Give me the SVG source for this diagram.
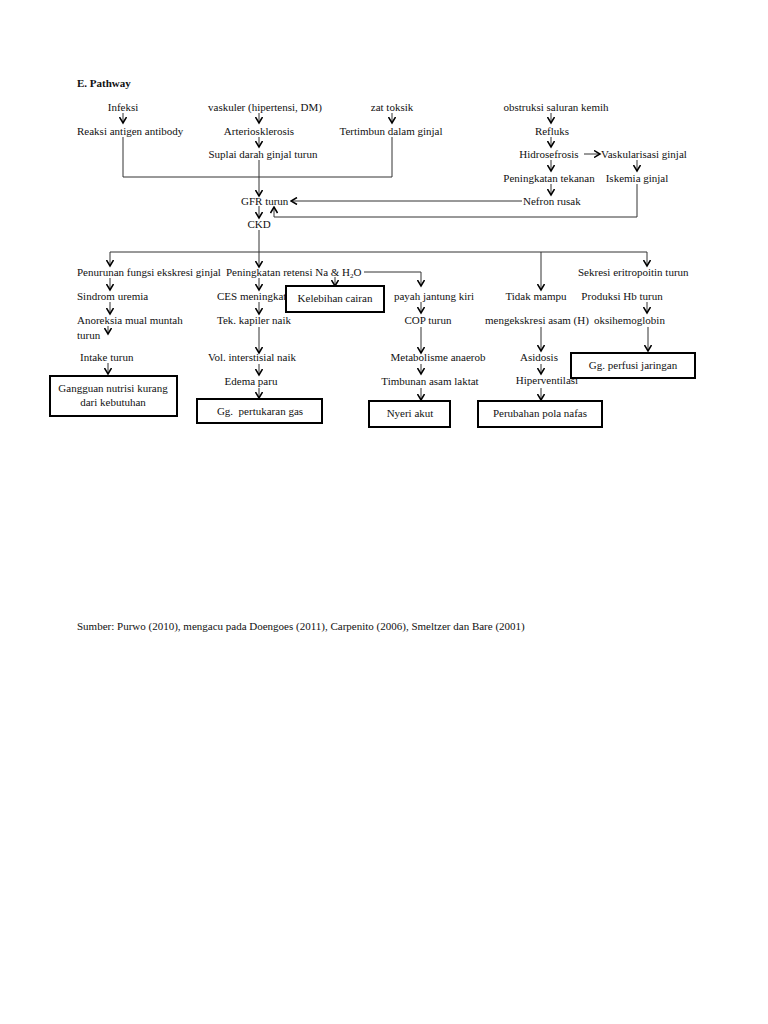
<svg xmlns="http://www.w3.org/2000/svg" width="768" height="1024" viewBox="0 0 768 1024">
<style>
text{font-family:"Liberation Serif","Times New Roman",serif;font-size:11px;fill:#111}
.m{text-anchor:middle}
.b{font-weight:bold}
.ln{fill:none;stroke:#333;stroke-width:1}
.ar{fill:none;stroke:#333;stroke-width:1;marker-end:url(#v)}
.box{fill:#fff;stroke:#000;stroke-width:2}
</style>
<defs>
<marker id="v" viewBox="0 0 8 8" refX="6.5" refY="4" markerWidth="8" markerHeight="8" markerUnits="userSpaceOnUse" orient="auto">
<path d="M0.5,0.5 L6.5,4 L0.5,7.5" fill="none" stroke="#000" stroke-width="1.5"/>
</marker>
</defs>
<rect width="768" height="1024" fill="#fff"/>
<text x="77" y="87" class="b">E. Pathway</text>

<g id="connectors">
<line class="ar" x1="123" y1="113" x2="123" y2="123"/>
<line class="ar" x1="259" y1="113" x2="259" y2="123"/>
<line class="ar" x1="392" y1="113" x2="392" y2="123"/>
<line class="ar" x1="551" y1="113" x2="551" y2="123"/>
<line class="ar" x1="259" y1="137" x2="259" y2="147"/>
<line class="ar" x1="551" y1="137" x2="551" y2="147"/>
<line class="ar" x1="551" y1="160" x2="551" y2="171"/>
<line class="ar" x1="637" y1="160" x2="637" y2="171"/>
<line class="ar" x1="584" y1="154" x2="600" y2="154"/>
<line class="ar" x1="551" y1="184" x2="551" y2="195"/>
<polyline class="ln" points="123,137 123,177 392,177 392,137"/>
<line class="ar" x1="259" y1="160" x2="259" y2="196"/>
<line class="ar" x1="522" y1="201" x2="291" y2="201"/>
<polyline class="ar" points="637,184 637,217 274,217 274,207"/>
<line class="ar" x1="259" y1="206" x2="259" y2="218"/>
<line class="ar" x1="259" y1="230" x2="259" y2="267"/>
<polyline class="ar" points="110,252 110,266"/>
<line class="ln" x1="110" y1="252" x2="647" y2="252"/>
<line class="ar" x1="541" y1="252" x2="541" y2="290"/>
<line class="ar" x1="647" y1="252" x2="647" y2="266"/>
<polyline class="ar" points="364,272 421,272 421,286"/>
<line class="ar" x1="335" y1="277" x2="335" y2="286"/>
<line class="ar" x1="110" y1="278" x2="110" y2="290"/>
<line class="ar" x1="259" y1="278" x2="259" y2="290"/>
<line class="ar" x1="110" y1="302" x2="110" y2="314"/>
<line class="ar" x1="259" y1="302" x2="259" y2="314"/>
<line class="ar" x1="421" y1="302" x2="421" y2="313"/>
<line class="ar" x1="647" y1="302" x2="647" y2="313"/>
<line class="ar" x1="108" y1="326" x2="108" y2="334"/>
<line class="ar" x1="259" y1="327" x2="259" y2="353"/>
<line class="ar" x1="421" y1="327" x2="421" y2="353"/>
<line class="ar" x1="541" y1="327" x2="541" y2="351"/>
<line class="ar" x1="648" y1="327" x2="648" y2="351"/>
<line class="ar" x1="108" y1="363" x2="108" y2="374"/>
<line class="ar" x1="259" y1="364" x2="259" y2="375"/>
<line class="ar" x1="421" y1="364" x2="421" y2="374"/>
<line class="ar" x1="541" y1="364" x2="541" y2="374"/>
<line class="ar" x1="259" y1="388" x2="259" y2="398"/>
<line class="ar" x1="421" y1="388" x2="421" y2="400"/>
<line class="ar" x1="541" y1="388" x2="541" y2="400"/>
</g>

<g id="n-infeksi"><text x="123" y="111" class="m">Infeksi</text></g>
<g id="n-vaskuler"><text x="265" y="111" class="m">vaskuler (hipertensi, DM)</text></g>
<g id="n-zat"><text x="392" y="111" class="m">zat toksik</text></g>
<g id="n-obstruksi"><text x="556" y="111" class="m">obstruksi saluran kemih</text></g>
<g id="n-reaksi"><text x="77" y="135">Reaksi antigen antibody</text></g>
<g id="n-arterio"><text x="259" y="135" class="m">Arteriosklerosis</text></g>
<g id="n-tertimbun"><text x="391" y="135" class="m">Tertimbun dalam ginjal</text></g>
<g id="n-refluks"><text x="552" y="135" class="m">Refluks</text></g>
<g id="n-suplai"><text x="263" y="158" class="m">Suplai darah ginjal turun</text></g>
<g id="n-hidro"><text x="549" y="158" class="m">Hidrosefrosis</text></g>
<g id="n-vaskularisasi"><text x="601" y="158">Vaskularisasi ginjal</text></g>
<g id="n-peningkatan-tekanan"><text x="549" y="182" class="m">Peningkatan tekanan</text></g>
<g id="n-iskemia"><text x="637" y="182" class="m">Iskemia ginjal</text></g>
<g id="n-gfr"><text x="241" y="205">GFR turun</text></g>
<g id="n-nefron"><text x="523" y="205">Nefron rusak</text></g>
<g id="n-ckd"><text x="259" y="228" class="m">CKD</text></g>
<g id="n-penurunan"><text x="77" y="276">Penurunan fungsi ekskresi ginjal</text></g>
<g id="n-retensi"><text x="226" y="276">Peningkatan retensi Na &amp; H<tspan font-size="7" dy="2">2</tspan><tspan dy="-2">O</tspan></text></g>
<g id="n-sekresi"><text x="578" y="276">Sekresi eritropoitin turun</text></g>
<g id="n-sindrom"><text x="77" y="300">Sindrom uremia</text></g>
<g id="n-ces"><text x="217" y="300">CES meningkat</text></g>
<g id="n-kelebihan"><rect class="box" x="286" y="286" width="98" height="26"/><text x="335" y="302" class="m">Kelebihan cairan</text></g>
<g id="n-payah"><text x="434" y="300" class="m">payah jantung kiri</text></g>
<g id="n-tidak"><text x="536" y="300" class="m">Tidak mampu</text></g>
<g id="n-produksi"><text x="622" y="300" class="m">Produksi Hb turun</text></g>
<g id="n-anoreksia"><text x="77" y="324">Anoreksia mual muntah</text><text x="77" y="339">turun</text></g>
<g id="n-tek"><text x="217" y="324">Tek. kapiler naik</text></g>
<g id="n-cop"><text x="428" y="324" class="m">COP turun</text></g>
<g id="n-mengekskresi"><text x="485" y="324">mengekskresi asam (H)</text></g>
<g id="n-oksi"><text x="594" y="324">oksihemoglobin</text></g>
<g id="n-intake"><text x="80" y="361">Intake turun</text></g>
<g id="n-vol"><text x="252" y="361" class="m">Vol. interstisial naik</text></g>
<g id="n-metabolisme"><text x="438" y="361" class="m">Metabolisme anaerob</text></g>
<g id="n-asidosis"><text x="539" y="361" class="m">Asidosis</text></g>
<g id="n-perfusi"><rect class="box" x="571" y="353" width="124" height="25"/><text x="633" y="369" class="m">Gg. perfusi jaringan</text></g>
<g id="n-edema"><text x="251" y="385" class="m">Edema paru</text></g>
<g id="n-timbunan"><text x="430" y="385" class="m">Timbunan asam laktat</text></g>
<g id="n-hiper"><text x="547" y="384" class="m">Hiperventilasi</text></g>
<g id="n-gangguan"><rect class="box" x="50" y="376" width="127" height="40"/><text x="113" y="392" class="m">Gangguan nutrisi kurang</text><text x="113" y="406" class="m">dari kebutuhan</text></g>
<g id="n-pertukaran"><rect class="box" x="197" y="399" width="125" height="24"/><text x="260" y="415" class="m" xml:space="preserve">Gg.  pertukaran gas</text></g>
<g id="n-nyeri"><rect class="box" x="369" y="401" width="81" height="26"/><text x="410" y="417" class="m">Nyeri akut</text></g>
<g id="n-perubahan"><rect class="box" x="478" y="401" width="124" height="26"/><text x="540" y="417" class="m">Perubahan pola nafas</text></g>

<text x="77" y="630">Sumber: Purwo (2010), mengacu pada Doengoes (2011), Carpenito (2006), Smeltzer dan Bare (2001)</text>
</svg>
